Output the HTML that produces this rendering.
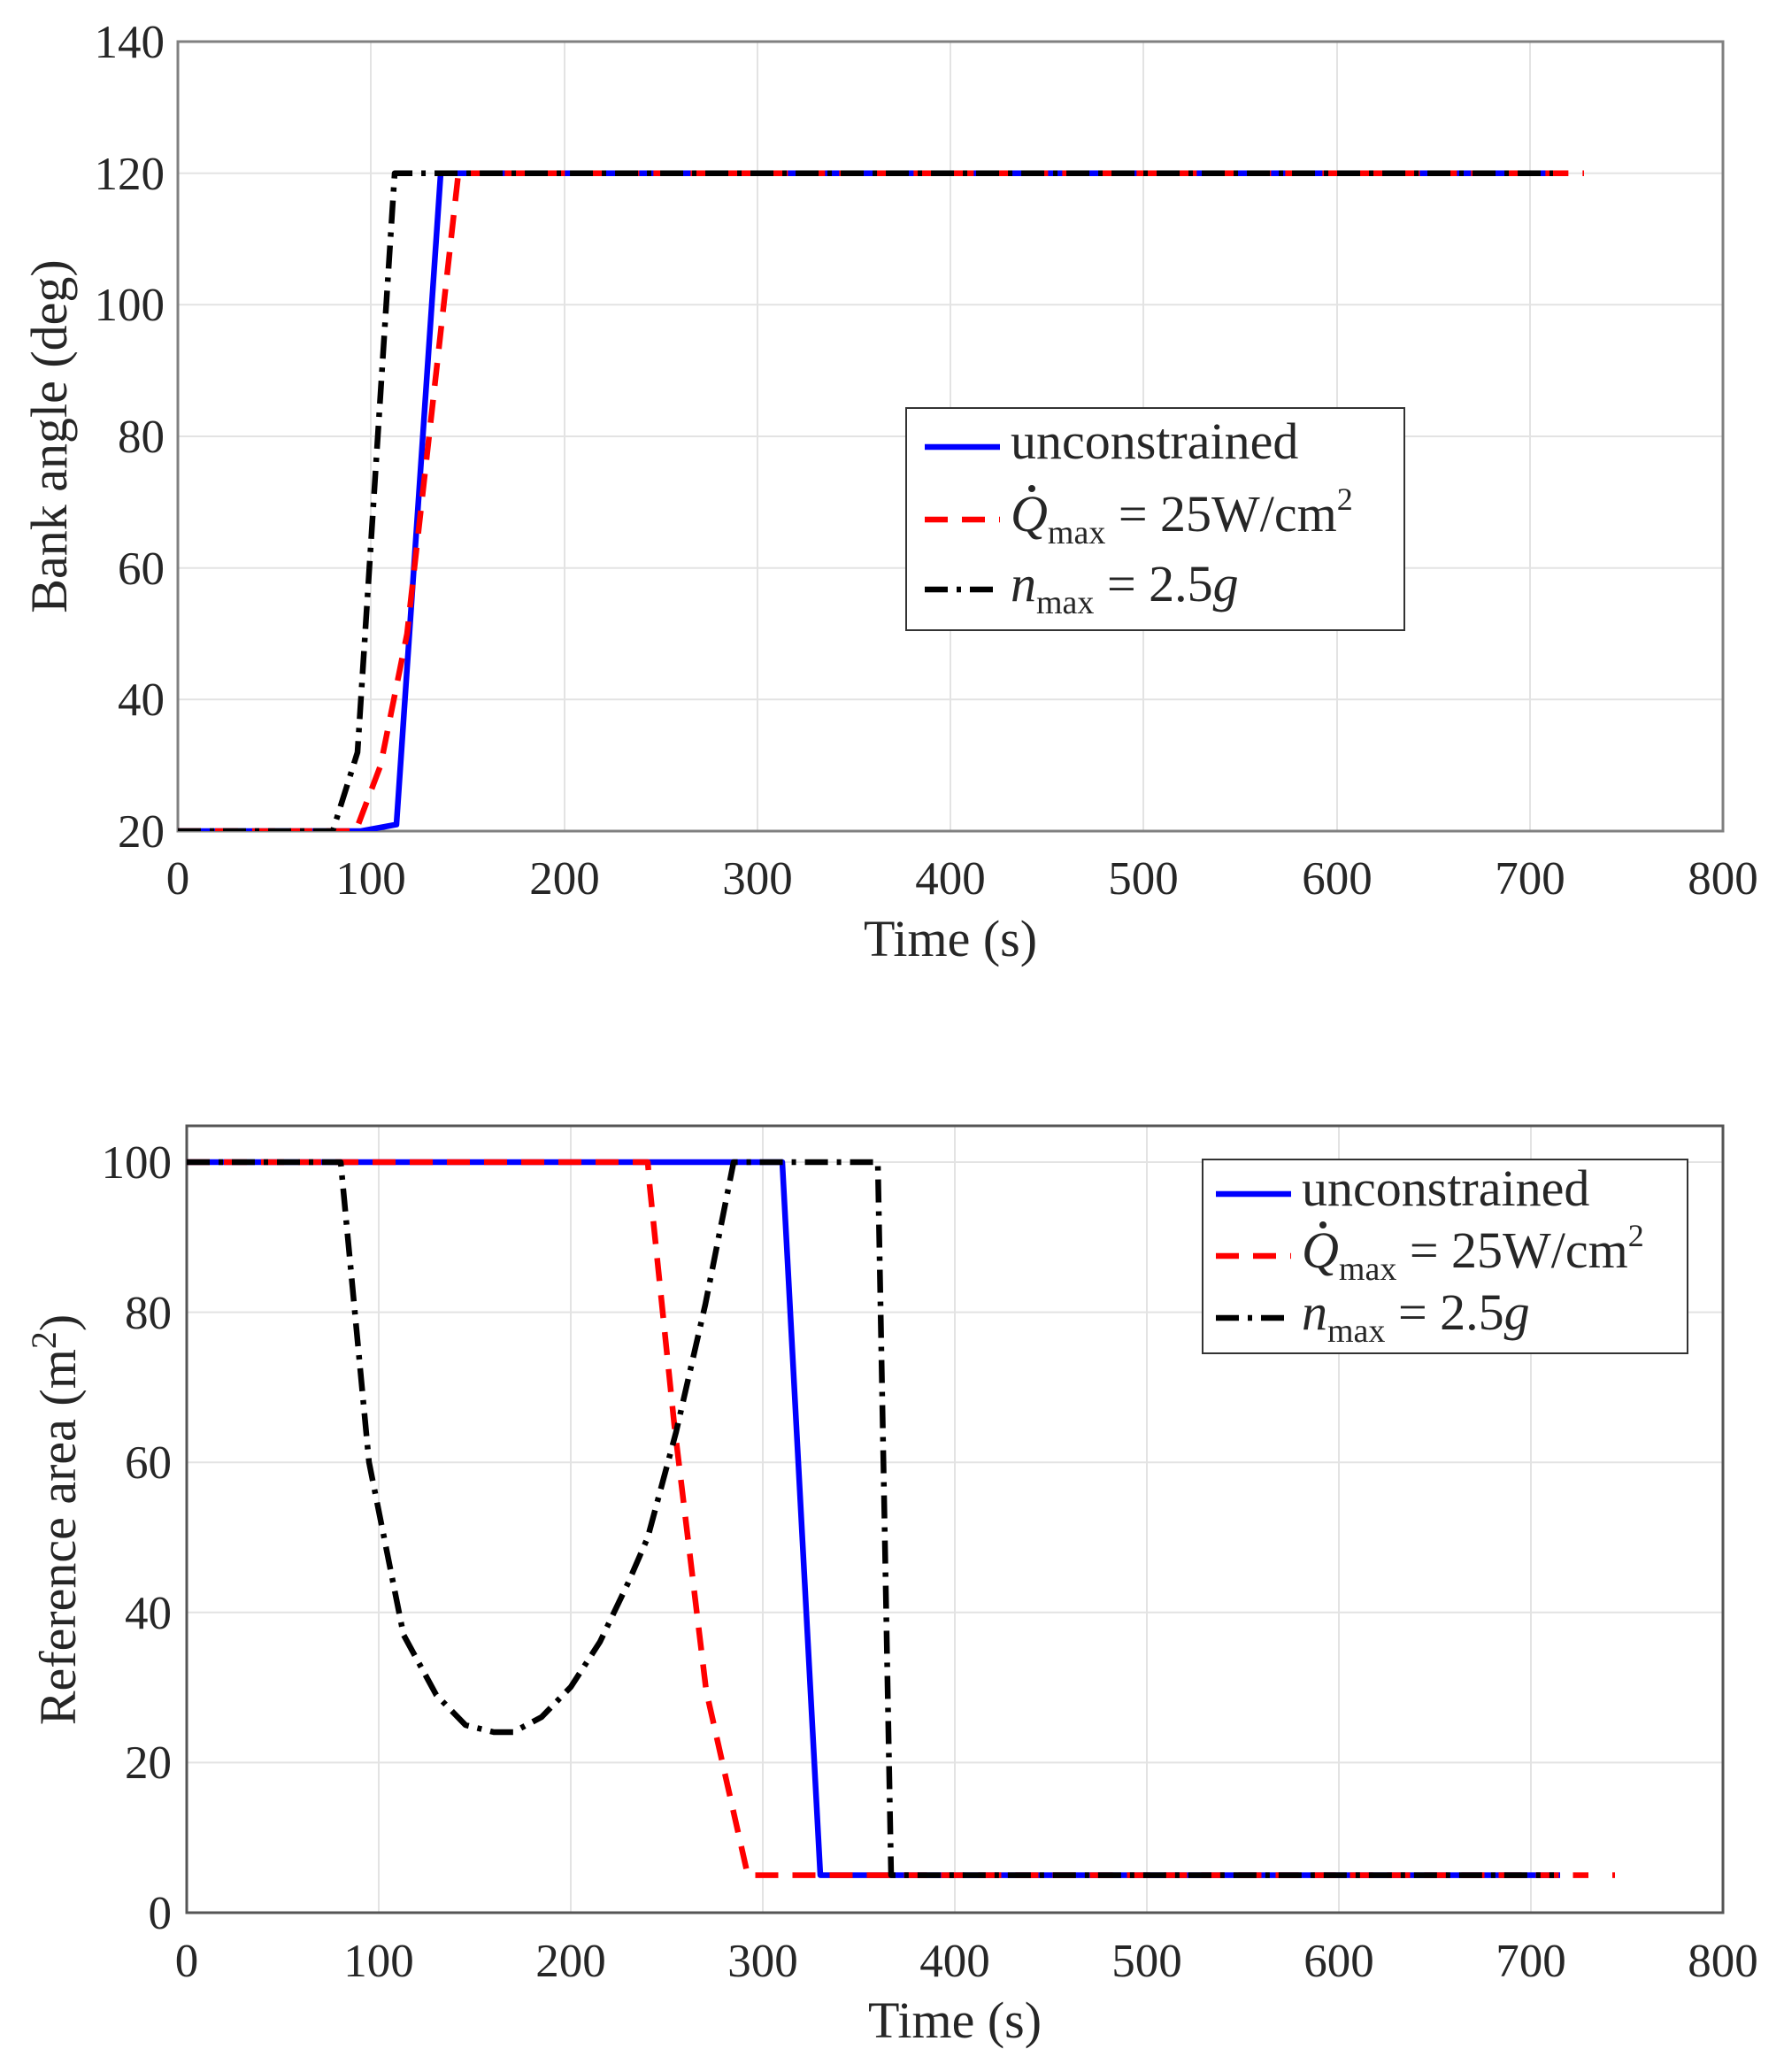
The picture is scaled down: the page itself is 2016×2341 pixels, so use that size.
<!DOCTYPE html>
<html><head><meta charset="utf-8"><style>html,body{margin:0;padding:0;background:#fff}svg{display:block}text{font-family:"Liberation Serif",serif;fill:#262626}</style></head><body>
<svg width="2016" height="2341" viewBox="0 0 2016 2341" xmlns="http://www.w3.org/2000/svg">
<defs>
<clipPath id="c1"><rect x="201" y="47" width="1746" height="892"/></clipPath>
<clipPath id="c2"><rect x="211" y="1272" width="1736" height="889"/></clipPath>
</defs>
<!-- TOP -->
<g stroke="#e3e3e3" stroke-width="2">
<line x1="419" y1="47" x2="419" y2="939"/><line x1="638" y1="47" x2="638" y2="939"/><line x1="856" y1="47" x2="856" y2="939"/><line x1="1074" y1="47" x2="1074" y2="939"/><line x1="1292" y1="47" x2="1292" y2="939"/><line x1="1511" y1="47" x2="1511" y2="939"/><line x1="1729" y1="47" x2="1729" y2="939"/>
<line x1="201" y1="195.7" x2="1947" y2="195.7"/><line x1="201" y1="344.3" x2="1947" y2="344.3"/><line x1="201" y1="493" x2="1947" y2="493"/><line x1="201" y1="641.7" x2="1947" y2="641.7"/><line x1="201" y1="790.3" x2="1947" y2="790.3"/>
</g>
<rect x="201" y="47" width="1746" height="892" fill="none" stroke="#808080" stroke-width="3"/>
<g font-size="53" text-anchor="end">
<text x="186" y="957">20</text><text x="186" y="808">40</text><text x="186" y="660">60</text><text x="186" y="511">80</text><text x="186" y="362">100</text><text x="186" y="214">120</text><text x="186" y="65">140</text>
</g>
<g font-size="53" text-anchor="middle">
<text x="201" y="1010">0</text><text x="419" y="1010">100</text><text x="638" y="1010">200</text><text x="856" y="1010">300</text><text x="1074" y="1010">400</text><text x="1292" y="1010">500</text><text x="1511" y="1010">600</text><text x="1729" y="1010">700</text><text x="1947" y="1010">800</text>
</g>
<text x="1074" y="1080" font-size="58" text-anchor="middle">Time (s)</text>
<text transform="translate(75,493) rotate(-90)" font-size="58" text-anchor="middle">Bank angle (deg)</text>
<g clip-path="url(#c1)" fill="none" stroke-width="6.5" stroke-linejoin="round">
<polyline stroke="#0000ff" points="201,939 408,939 448,931.6 498,195.7 1750,195.7"/>
<polyline stroke="#ff0000" stroke-dasharray="26 16" points="201,939 402,939 430,865 460,716 518,195.7 1790,195.7"/>
<polyline stroke="#000" stroke-dasharray="26 10 5 10" points="201,939 376,939 404,850 446,195.7 1755,195.7"/>
</g>
<rect x="1024" y="461" width="563" height="251" fill="#fff" stroke="#333" stroke-width="2"/>
<line x1="1045" y1="505" x2="1130" y2="505" stroke="#0000ff" stroke-width="6.5"/>
<line x1="1045" y1="587" x2="1130" y2="587" stroke="#ff0000" stroke-width="6.5" stroke-dasharray="26 16"/>
<line x1="1045" y1="666" x2="1130" y2="666" stroke="#000" stroke-width="6.5" stroke-dasharray="26 10 5 10"/>
<text x="1142" y="518" font-size="58">unconstrained</text>
<text x="1142" y="600" font-size="58"><tspan font-style="italic">Q</tspan><tspan font-size="38" dy="14">max</tspan><tspan dy="-14"> = 25W/cm</tspan><tspan font-size="36" dy="-24">2</tspan></text>
<circle cx="1166" cy="552" r="4" fill="#262626"/>
<text x="1142" y="679" font-size="58"><tspan font-style="italic">n</tspan><tspan font-size="38" dy="14">max</tspan><tspan dy="-14"> = 2.5</tspan><tspan font-style="italic">g</tspan></text>

<!-- BOTTOM -->
<g stroke="#e3e3e3" stroke-width="2">
<line x1="428" y1="1272" x2="428" y2="2161"/><line x1="645" y1="1272" x2="645" y2="2161"/><line x1="862" y1="1272" x2="862" y2="2161"/><line x1="1079" y1="1272" x2="1079" y2="2161"/><line x1="1296" y1="1272" x2="1296" y2="2161"/><line x1="1513" y1="1272" x2="1513" y2="2161"/><line x1="1730" y1="1272" x2="1730" y2="2161"/>
<line x1="211" y1="1991.4" x2="1947" y2="1991.4"/><line x1="211" y1="1821.8" x2="1947" y2="1821.8"/><line x1="211" y1="1652.2" x2="1947" y2="1652.2"/><line x1="211" y1="1482.6" x2="1947" y2="1482.6"/><line x1="211" y1="1313" x2="1947" y2="1313"/>
</g>
<rect x="211" y="1272" width="1736" height="889" fill="none" stroke="#555" stroke-width="3"/>
<g font-size="53" text-anchor="end">
<text x="194" y="2179">0</text><text x="194" y="2009">20</text><text x="194" y="1840">40</text><text x="194" y="1670">60</text><text x="194" y="1501">80</text><text x="194" y="1331">100</text>
</g>
<g font-size="53" text-anchor="middle">
<text x="211" y="2233">0</text><text x="428" y="2233">100</text><text x="645" y="2233">200</text><text x="862" y="2233">300</text><text x="1079" y="2233">400</text><text x="1296" y="2233">500</text><text x="1513" y="2233">600</text><text x="1730" y="2233">700</text><text x="1947" y="2233">800</text>
</g>
<text x="1079" y="2302" font-size="58" text-anchor="middle">Time (s)</text>
<text transform="translate(85,1717) rotate(-90)" font-size="58" text-anchor="middle">Reference area (m<tspan font-size="40" dy="-22">2</tspan><tspan dy="22">)</tspan></text>
<g clip-path="url(#c2)" fill="none" stroke-width="6.5" stroke-linejoin="round">
<polyline stroke="#0000ff" points="211,1313 884,1313 927,2118.6 1763,2118.6"/>
<polyline stroke="#ff0000" stroke-dasharray="26 16" points="211,1313 732,1313 734,1338 762,1610 798,1910 845,2118.6 1795,2118.6"/>
<polyline stroke="#ff0000" points="1822,2118.6 1825,2118.6"/>
<polyline stroke="#000" stroke-dasharray="26 10 5 10" points="211,1313 385,1313 417,1652 456,1847 493,1915 526,1949 558,1957 580,1957 612,1940 645,1906 678,1855 710,1788 732,1737 764,1618 797,1474 829,1313 992,1313 1007,2118.6 1756,2118.6"/>
</g>
<rect x="1359" y="1310" width="548" height="219" fill="#fff" stroke="#333" stroke-width="2"/>
<line x1="1374" y1="1349" x2="1459" y2="1349" stroke="#0000ff" stroke-width="6.5"/>
<line x1="1374" y1="1419" x2="1459" y2="1419" stroke="#ff0000" stroke-width="6.5" stroke-dasharray="26 16"/>
<line x1="1374" y1="1489" x2="1459" y2="1489" stroke="#000" stroke-width="6.5" stroke-dasharray="26 10 5 10"/>
<text x="1471" y="1362" font-size="58">unconstrained</text>
<text x="1471" y="1432" font-size="58"><tspan font-style="italic">Q</tspan><tspan font-size="38" dy="14">max</tspan><tspan dy="-14"> = 25W/cm</tspan><tspan font-size="36" dy="-24">2</tspan></text>
<circle cx="1495" cy="1384" r="4" fill="#262626"/>
<text x="1471" y="1502" font-size="58"><tspan font-style="italic">n</tspan><tspan font-size="38" dy="14">max</tspan><tspan dy="-14"> = 2.5</tspan><tspan font-style="italic">g</tspan></text>
</svg>
</body></html>
